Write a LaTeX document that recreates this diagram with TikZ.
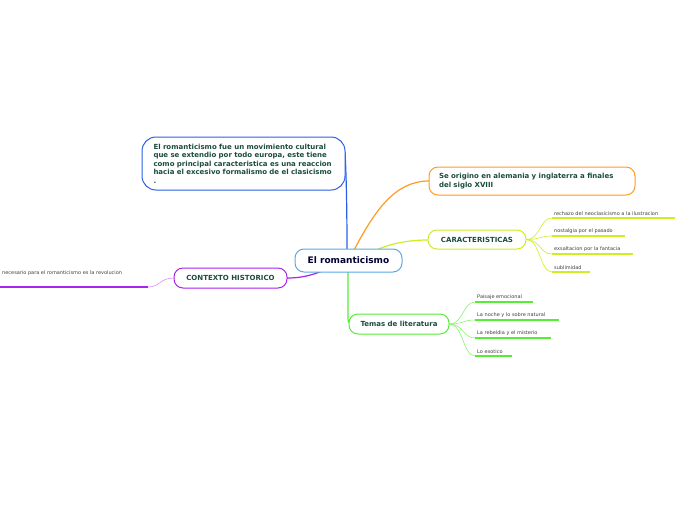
\documentclass[tikz,border=0pt]{standalone}
\usepackage{fontspec}
\setmainfont{DejaVu Sans}
\definecolor{txt}{HTML}{1B4D3E}
\definecolor{cblue}{HTML}{2A5FE6}
\definecolor{clight}{HTML}{5AA9E6}
\definecolor{corange}{HTML}{FF9A22}
\definecolor{cyel}{HTML}{CCEE22}
\definecolor{cgreen}{HTML}{55EE33}
\definecolor{cpurp}{HTML}{AA22EE}
\tikzset{
 topic/.style={draw, line width=1pt, rounded corners=9pt, fill=white, text=txt, font=\bfseries\fontsize{7}{8.5}\selectfont, inner sep=0pt},
 leaf/.style={anchor=south west, inner sep=1pt, text=black!75, font=\fontsize{5}{6}\selectfont},
}
\begin{document}
\begin{tikzpicture}[x=1pt,y=-1pt]
\useasboundingbox (0,0) rectangle (696,520);
% connectors
\draw[cblue, line width=1.2pt] (347,252) .. controls (347,200) and (346,170) .. (345,152);
\draw[corange, line width=1.2pt] (353,252) .. controls (375,210) and (395,181) .. (429,181);
\draw[cyel, line width=1.2pt] (372,252) .. controls (390,243) and (410,240) .. (428,240);
\draw[cgreen, line width=1.2pt] (348,270) -- (348,318) .. controls (348,322) and (349,324) .. (352,324);
\draw[cpurp, line width=1.2pt] (325,270) .. controls (310,276) and (300,278) .. (287,278);
% nodes
\node[topic, draw=cblue, minimum width=203pt, minimum height=53pt, rounded corners=14pt, align=left, text width=180pt] (intro) at (243.5,163.5) {El romanticismo fue un movimiento cultural que se extendio por todo europa, este tiene como principal caracteristica es una reaccion hacia el excesivo formalismo de el clasicismo .};
\node[topic, draw=corange, minimum width=206pt, minimum height=28pt, align=left, text width=186pt] (orig) at (532,181) {Se origino en alemania y inglaterra a finales del siglo XVIII};
\node[topic, draw=cyel, minimum width=98pt, minimum height=19pt] (car) at (477,239.5) {CARACTERISTICAS};
\node[topic, draw=cgreen, minimum width=100pt, minimum height=20pt] (tem) at (399,324) {Temas de literatura};
\node[topic, draw=cpurp, minimum width=113pt, minimum height=20pt] (ctx) at (230.5,278) {CONTEXTO HISTORICO};
\node[topic, draw=clight, minimum width=107pt, minimum height=23pt, text=black!80!blue, font=\bfseries\fontsize{9}{10}\selectfont] (main) at (348.5,260.5) {El romanticismo};
% caracteristicas leaves
\foreach \t/\y/\e [count=\i] in {rechazo del neoclasicismo a la ilustracion/218/675, nostalgia por el pasado/236/625, exsaltacion por la fantacia/254/633, sublimidad/272/590}{
 \coordinate (c\i) at (552,\y);
 \node[leaf] (cl\i) at (553,\y-1) {\t};
 \draw[cyel, line width=0.6pt] (car.east) .. controls (540,239.5) and (540,\y) .. (c\i);
 \draw[cyel, line width=1.2pt] (c\i) -- (\e,\y);
}
% temas leaves
\foreach \t/\y/\e [count=\i] in {Paisaje emocional/302/533, La noche y lo sobre natural/320/559, La rebeldia y el misterio/338/551, Lo exotico/356/512}{
 \coordinate (t\i) at (475,\y);
 \node[leaf] (tl\i) at (476,\y-1) {\t};
 \draw[cgreen!70, line width=0.6pt] (tem.east) .. controls (463,324) and (463,\y) .. (t\i);
 \draw[cgreen, line width=1.2pt] (t\i) -- (\e,\y);
}
% contexto leaf
\coordinate (k1) at (148,287);
\node[leaf] (kl) at (1,277) {necesario para el romanticismo es la revolucion};
\draw[cpurp!50, line width=0.6pt] (ctx.west) .. controls (160,278) and (160,287) .. (k1);
\draw[cpurp, line width=1.2pt] (k1) -- (0,287);
\end{tikzpicture}
\end{document}
